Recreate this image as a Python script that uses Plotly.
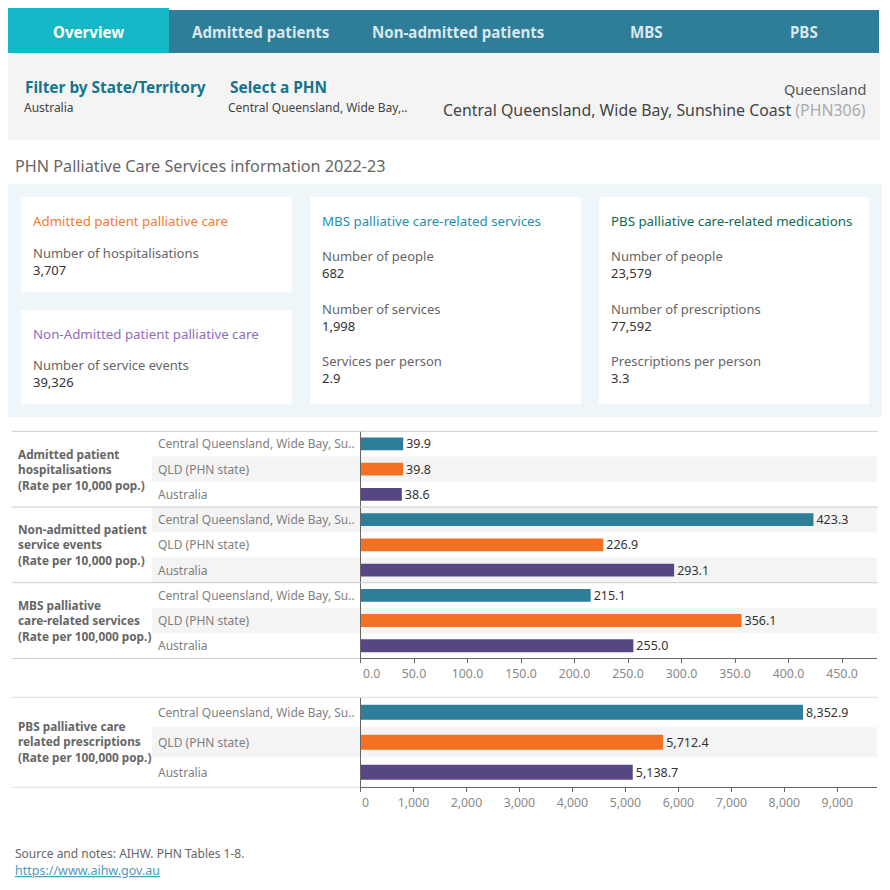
import plotly.graph_objects as go

FONT = "Noto Sans"
SIZE = 890

# data
tabs = ["Overview", "Admitted patients", "Non-admitted patients", "MBS", "PBS"]
areas = ["Central Queensland, Wide Bay, Su..", "QLD (PHN state)", "Australia"]
area_colors = ["#2E7D99", "#F47023", "#564682"]

top_groups = [
    "Admitted patient<br>hospitalisations<br>(Rate per 10,000 pop.)",
    "Non-admitted patient<br>service events<br>(Rate per 10,000 pop.)",
    "MBS palliative<br>care-related services<br>(Rate per 100,000 pop.)",
]
admitted_rates = [39.9, 39.8, 38.6]
non_admitted_rates = [423.3, 226.9, 293.1]
mbs_rates = [215.1, 356.1, 255.0]

bottom_group = "PBS palliative care<br>related prescriptions<br>(Rate per 100,000 pop.)"
pbs_rates = [8352.9, 5712.4, 5138.7]

top_ticks = [0, 50, 100, 150, 200, 250, 300, 350, 400, 450]
bottom_ticks = [0, 1000, 2000, 3000, 4000, 5000, 6000, 7000, 8000, 9000]

# layout in pixels of the 890 page
TOP_Y = (431.3, 658.4)
BOTTOM_Y = (697.3, 787.3)
PLOT_X = (360.5, 877)
TOP_MAX = 482.7
BOTTOM_MAX = 9749


def fx(px):
    return px / SIZE


def fy(px):
    return 1 - px / SIZE


annotations = []
shapes = []


def label(x, y, text, size=13, color="#555555", anchor="left", align="left"):
    # annotations sit about a pixel right of the asked position
    if anchor == "left":
        x -= 1
    elif anchor == "right":
        x += 1
    annotations.append(dict(
        xref="paper", yref="paper", x=fx(x), y=fy(y), text=text, showarrow=False,
        xanchor=anchor, yanchor="middle", align=align, borderpad=0,
        font=dict(family=FONT, size=size, color=color),
    ))


def rect(x0, y0, x1, y1, color):
    shapes.append(dict(
        type="rect", xref="paper", yref="paper", layer="below", line_width=0,
        x0=fx(x0), x1=fx(x1), y0=fy(y0), y1=fy(y1), fillcolor=color,
    ))


def hline(x0, x1, y, color="#CCCCCC", width=1):
    shapes.append(dict(
        type="line", xref="paper", yref="paper", layer="above",
        x0=fx(x0), x1=fx(x1), y0=fy(y), y1=fy(y), line=dict(color=color, width=width),
    ))


# tab bar
rect(8, 10, 879, 53, "#2E7D99")
rect(8, 8, 169, 55, "#14B8C6")
for tab, cx in zip(tabs, [88.5, 260, 458, 646, 804]):
    label(cx, 32, f"<b>{tab}</b>", 15.1, "#FFFFFF" if tab == "Overview" else "#D9E8EE", "center")

# filter panel
rect(8, 53, 880, 140, "#F4F4F4")
label(25, 87, "<b>Filter by State/Territory</b>", 15.4, "#14758F")
label(24, 107, "Australia", 12, "#444444")
label(229.5, 87, "<b>Select a PHN</b>", 15.4, "#14758F")
label(228, 107, "Central Queensland, Wide Bay,..", 12, "#444444")
label(866, 89, "Queensland", 14.5, "#555555", "right", "right")
label(866, 110, 'Central Queensland, Wide Bay, Sunshine Coast <span style="color:#AAAAAA">(PHN306)</span>',
      15.9, "#444444", "right", "right")

label(15, 166, "PHN Palliative Care Services information 2022-23", 16.2, "#666666")

# summary cards
rect(8, 184, 882, 417, "#EEF6F9")
rect(21, 197, 292, 292, "#FFFFFF")
rect(21, 310, 292, 404, "#FFFFFF")
rect(310, 197, 581, 404, "#FFFFFF")
rect(599, 197, 869, 404, "#FFFFFF")

label(33, 220.5, "Admitted patient palliative care", 13.3, "#F47A2E")
label(33, 252.5, "Number of hospitalisations", 13, "#666666")
label(33, 269.5, "3,707", 13, "#333333")

label(33, 333.5, "Non-Admitted patient palliative care", 13.3, "#8E6CBF")
label(33, 364.5, "Number of service events", 13, "#666666")
label(33, 381.5, "39,326", 13, "#333333")

label(322, 220.5, "MBS palliative care-related services", 13.3, "#1F8FAE")
label(322, 255.5, "Number of people", 13, "#666666")
label(322, 272.5, "682", 13, "#333333")
label(322, 308.5, "Number of services", 13, "#666666")
label(322, 325.5, "1,998", 13, "#333333")
label(322, 360.5, "Services per person", 13, "#666666")
label(322, 377.5, "2.9", 13, "#333333")

label(611, 220.5, "PBS palliative care-related medications", 13.3, "#0F6B50")
label(611, 255.5, "Number of people", 13, "#666666")
label(611, 272.5, "23,579", 13, "#333333")
label(611, 308.5, "Number of prescriptions", 13, "#666666")
label(611, 325.5, "77,592", 13, "#333333")
label(611, 360.5, "Prescriptions per person", 13, "#666666")
label(611, 377.5, "3.3", 13, "#333333")

# row bands and separators
top_row = (TOP_Y[1] - TOP_Y[0]) / 9
for i in [1, 3, 5, 7]:
    rect(152, TOP_Y[0] + i * top_row, 877, TOP_Y[0] + (i + 1) * top_row, "#F4F4F4")
bottom_row = (BOTTOM_Y[1] - BOTTOM_Y[0]) / 3
rect(152, BOTTOM_Y[0] + bottom_row, 877, BOTTOM_Y[0] + 2 * bottom_row, "#F4F4F4")

hline(12, 878, TOP_Y[0])
hline(12, 878, TOP_Y[0] + 3 * top_row)
hline(12, 878, TOP_Y[0] + 6 * top_row)
hline(12, 360, TOP_Y[1])
hline(12, 878, BOTTOM_Y[0], "#DDDDDD")
hline(12, 360, BOTTOM_Y[1], "#DDDDDD")

# group and area labels
for i, text in enumerate(top_groups):
    label(18, TOP_Y[0] + (3 * i + 1.5) * top_row, f"<b>{text}</b>", 11.8, "#666666")
label(18, BOTTOM_Y[0] + 1.5 * bottom_row - 0.5, f"<b>{bottom_group}</b>", 11.8, "#666666")

for i in range(9):
    label(158, TOP_Y[0] + (i + 0.5) * top_row, areas[i % 3], 12, "#808080")
for i in range(3):
    label(158, BOTTOM_Y[0] + (i + 0.5) * bottom_row, areas[i], 12, "#808080")

fig = go.Figure()

# one bar trace per area, three metrics stacked in rows on the upper chart
for k, area in enumerate(areas):
    values = [admitted_rates[k], non_admitted_rates[k], mbs_rates[k]]
    fig.add_trace(go.Bar(
        x=values, y=[k, k + 3, k + 6], orientation="h", name=area, width=0.51,
        marker=dict(color=area_colors[k], line_width=0),
        text=[f"{v:,.1f}" for v in values], textposition="outside", cliponaxis=False,
        constraintext="none",
        textfont=dict(family=FONT, size=12.5, color="#333333"),
        xaxis="x", yaxis="y", hoverinfo="skip",
    ))
    fig.add_trace(go.Bar(
        x=[pbs_rates[k]], y=[k], orientation="h", name=area, width=0.5,
        marker=dict(color=area_colors[k], line_width=0),
        text=[f"{pbs_rates[k]:,.1f}"], textposition="outside", cliponaxis=False,
        constraintext="none",
        textfont=dict(family=FONT, size=12.5, color="#333333"),
        xaxis="x2", yaxis="y2", hoverinfo="skip",
    ))

# first tick label sits right of the axis line, so it is drawn on its own
for axis, text, shift, y_px in [("x", "0.0", 10.5, TOP_Y[1] + 15), ("x2", "0", 4.5, BOTTOM_Y[1] + 15)]:
    annotations.append(dict(
        xref=axis, yref="paper", x=0, y=fy(y_px), text=text, showarrow=False, xshift=shift,
        xanchor="center", yanchor="middle", font=dict(family=FONT, size=12.3, color="#888888"),
    ))

label(15, 853, "Source and notes: AIHW. PHN Tables 1-8.", 12, "#666666")
label(15, 870, "<u>https://www.aihw.gov.au</u>", 12.5, "#4A9CC0")

x_style = dict(
    showgrid=False, zeroline=False, showline=True, linecolor="#666666", linewidth=1,
    ticks="outside", ticklen=4, tickcolor="#666666", tickwidth=1,
    tickfont=dict(family=FONT, size=12.3, color="#888888"),
    domain=[fx(PLOT_X[0]), fx(PLOT_X[1])],
)
y_style = dict(
    showgrid=False, zeroline=False, showline=True, linecolor="#666666", linewidth=1,
    showticklabels=False, ticks="",
)

fig.update_layout(
    width=SIZE, height=SIZE, autosize=False,
    margin=dict(l=0, r=0, t=0, b=0),
    paper_bgcolor="#FFFFFF", plot_bgcolor="rgba(0,0,0,0)",
    showlegend=False, barmode="overlay",
    annotations=annotations, shapes=shapes,
    xaxis=dict(
        x_style, anchor="y", range=[0, TOP_MAX], tickvals=top_ticks,
        ticktext=[""] + [f"{t:.1f}" for t in top_ticks[1:]],
    ),
    yaxis=dict(y_style, anchor="x", range=[8.5, -0.5], domain=[fy(TOP_Y[1]), fy(TOP_Y[0])]),
    xaxis2=dict(
        x_style, anchor="y2", range=[0, BOTTOM_MAX], tickvals=bottom_ticks,
        ticktext=[""] + [f"{t:,}" for t in bottom_ticks[1:]],
    ),
    yaxis2=dict(y_style, anchor="x2", range=[2.5, -0.5], domain=[fy(BOTTOM_Y[1]), fy(BOTTOM_Y[0])]),
)

fig.write_html(
    "out.html",
    config=dict(displayModeBar=False),
    post_script="document.body.style.margin='0';document.body.style.overflow='hidden';",
)
